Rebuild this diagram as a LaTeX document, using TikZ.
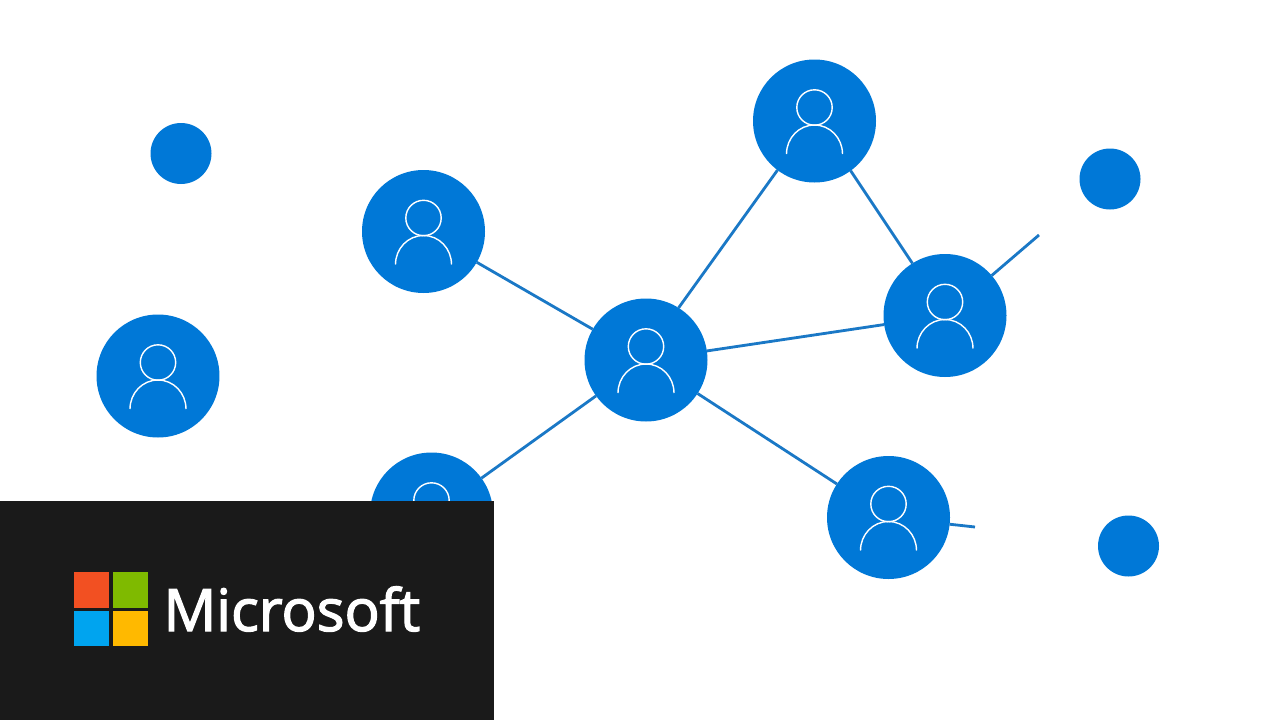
\documentclass[tikz,border=0pt]{standalone}
\usepackage{fontspec}
\newfontfamily\msfont[FakeBold=2.2]{Open Sans}
\definecolor{msblue}{HTML}{0078D7}
\definecolor{edgeblue}{HTML}{1A78C6}
\definecolor{panel}{HTML}{1A1A1A}
\definecolor{msred}{HTML}{F25022}
\definecolor{msgreen}{HTML}{7FBA00}
\definecolor{mscyan}{HTML}{00A4EF}
\definecolor{msyellow}{HTML}{FFB900}
\tikzset{
  bigdot/.style={circle,fill=msblue,draw=none,minimum size=6.15cm,inner sep=0pt,outer sep=0pt},
  smalldot/.style={circle,fill=msblue,draw=none,minimum size=3.05cm,inner sep=0pt,outer sep=0pt},
  link/.style={draw=edgeblue,line width=4pt},
  iconline/.style={draw=white,line width=2pt},
  tile/.style={draw=none,inner sep=0pt,outer sep=0pt,minimum size=1.79cm,anchor=north west},
  person/.pic={
    \draw[iconline] (0,-13.5) circle[radius=0.885cm];
    \draw[iconline] (-28,33) .. controls (-28,17) and (-15.5,4) .. (0,4)
                     .. controls (15.5,4) and (28,17) .. (28,33);
  }
}
\begin{document}
\begin{tikzpicture}[x=0.05cm,y=-0.05cm]
\useasboundingbox (0,0) rectangle (1280,720);
\fill[white] (0,0) rectangle (1280,720);
\node[smalldot] (s1) at (181,153.5) {};
\node[smalldot] (s2) at (1110,179) {};
\node[smalldot] (s3) at (1128.5,546) {};
\node[bigdot] (a) at (423.5,231.5) {};
\node[bigdot] (b) at (158,376) {};
\node[bigdot] (c) at (431.5,514) {};
\node[bigdot] (d) at (646,360) {};
\node[bigdot] (e) at (814.5,121) {};
\node[bigdot] (f) at (945,315.5) {};
\node[bigdot] (g) at (888.5,517.5) {};
\coordinate (fend) at (1039,235);
\coordinate (gend) at (975,527);
\draw[link] (a) -- (d);
\draw[link] (c) -- (d);
\draw[link] (d.58) -- (e.233);
\draw[link] (d) -- (f);
\draw[link] (d) -- (g);
\draw[link] (e.306) -- (f.122);
\draw[link] (f) -- (fend);
\draw[link] (g) -- (gend);
\foreach \n in {a,b,c,d,e,f,g} { \pic at (\n) {person}; }
\fill[panel] (0,501) rectangle (494,720);
\node[tile,fill=msred] (t1) at (73.5,572) {};
\node[tile,fill=msgreen] (t2) at (112.5,572) {};
\node[tile,fill=mscyan] (t3) at (73.5,610.5) {};
\node[tile,fill=msyellow] (t4) at (112.5,610.5) {};
\node[anchor=base west,inner sep=0pt,text=white,font=\msfont\fontsize{83}{90}\selectfont] (logo) at (163.5,631) {Microsoft};
\end{tikzpicture}
\end{document}
